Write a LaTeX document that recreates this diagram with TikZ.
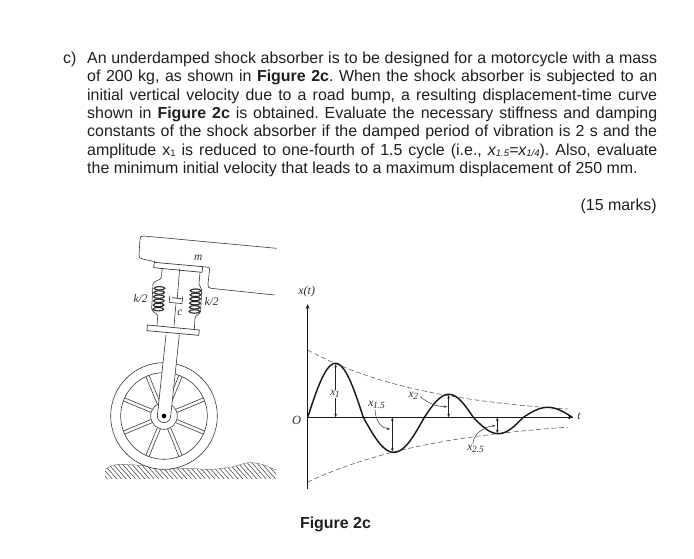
\documentclass[tikz,border=0pt]{standalone}
\usepackage{fontspec}
\setmainfont{Liberation Sans}
\newfontfamily\labelfont{Liberation Serif}
\usetikzlibrary{arrows.meta,calc}
\frenchspacing
\newcommand{\subsm}[1]{\raisebox{-1.6pt}{\fontsize{9.5}{9.5}\selectfont #1}}
\newcommand{\linebox}[1]{\makebox[570pt][s]{#1}}
\tikzset{
  para/.style={anchor=base west,inner sep=0pt,font=\fontsize{15.95}{18}\selectfont,text=black!88},
  sketch/.style={draw=black!78,line width=0.6pt,line join=round},
  sym/.style={inner sep=0pt,text=black!82,font=\labelfont\itshape\fontsize{11.5}{12}\selectfont},
  curve/.style={draw=black!90,line width=1.45pt,line cap=round},
  axisline/.style={draw=black!90,line width=1.2pt,-{Stealth[length=5pt,width=3.8pt]}},
  envelope/.style={draw=black!62,line width=0.6pt,dash pattern=on 5pt off 2.6pt},
  dim/.style={draw=black!85,line width=0.55pt,{Stealth[length=3.6pt,width=2.6pt]}-{Stealth[length=3.6pt,width=2.6pt]}},
  leader/.style={draw=black!75,line width=0.55pt,-{Stealth[length=3.6pt,width=2.6pt]}}
}
\begin{document}
\begin{tikzpicture}[x=1pt,y=-1pt]
\useasboundingbox (0,0) rectangle (694,558);
\fill[white] (0,0) rectangle (694,558);
% --- text ---
\node[para] (tc) at (63,63.5) {c)};
\node[para] (t1) at (87,63.5) {\linebox{An underdamped shock absorber is to be designed for a motorcycle with a mass}};
\node[para] (t2) at (87,81.8) {\linebox{of 200 kg, as shown in \textbf{Figure 2c}. When the shock absorber is subjected to an}};
\node[para] (t3) at (87,100.1) {\linebox{initial vertical velocity due to a road bump, a resulting displacement-time curve}};
\node[para] (t4) at (87,118.4) {\linebox{shown in \textbf{Figure 2c} is obtained. Evaluate the necessary stiffness and damping}};
\node[para] (t5) at (87,136.7) {\linebox{constants of the shock absorber if the damped period of vibration is 2 s and the}};
\node[para] (t6) at (87,155) {\linebox{amplitude x\subsm{1} is reduced to one-fourth of 1.5 cycle (i.e., \textit{x\subsm{1.5}=x\subsm{1/4}}). Also, evaluate}};
\node[para] (t7) at (87,173.3) {the minimum initial velocity that leads to a maximum displacement of 250 mm.};
\node[para,anchor=base east] (t8) at (657,210.5) {(15 marks)};
\node[para,anchor=base] (fig) at (335.5,528) {\textbf{Figure 2c}};
% --- motorcycle suspension: coordinates are in units of the 3x crop ---
\begin{scope}[shift={(100,225)},x=0.3333pt,y=-0.3333pt]
  % ground
  \begin{scope}
    \clip (15,733) .. controls (35,722) and (50,716) .. (65,718)
      .. controls (95,718) and (120,722) .. (135,723)
      .. controls (160,728) and (175,733) .. (192,733)
      .. controls (220,733) and (245,729) .. (265,730)
      .. controls (290,731) and (315,734) .. (335,733)
      .. controls (360,732) and (380,728) .. (400,725)
      .. controls (420,720) and (435,713) .. (450,713)
      .. controls (480,713) and (505,725) .. (528,735)
      -- (528,762) -- (15,762) -- cycle;
    \foreach \i in {-60,-46,...,530}
      \draw[sketch,line width=0.5pt] (\i,700) -- (\i+60,768);
  \end{scope}
  \draw[sketch,line width=0.4pt,draw=black!55] (15,733) .. controls (35,722) and (50,716) .. (65,718)
      .. controls (95,718) and (120,722) .. (135,723)
      .. controls (160,728) and (175,733) .. (192,733)
      .. controls (220,733) and (245,729) .. (265,730)
      .. controls (290,731) and (315,734) .. (335,733)
      .. controls (360,732) and (380,728) .. (400,725)
      .. controls (420,720) and (435,713) .. (450,713)
      .. controls (480,713) and (505,725) .. (528,735);
  % wheel
  \coordinate (hub) at (192,573);
  \draw[sketch,fill=white] (hub) circle[radius=160];
  \draw[sketch] (hub) circle[radius=130];
  \foreach \a in {22.5,67.5,...,360} {
    \begin{scope}[shift={(hub)},rotate=\a]
      \draw[sketch] (40,-5) -- (130,-5) (40,5) -- (130,5);
    \end{scope}
  }
  \draw[sketch,fill=white] (hub) circle[radius=40];
  % fork
  \draw[sketch,fill=white] (198,330) -- (172,573) arc[start angle=180,end angle=0,radius=20] -- (238,330);
  \fill[black] (hub) circle[radius=7];
  % body
  \draw[sketch] (530,70) -- (132,33) .. controls (123,32) and (120,36) .. (120,42)
     -- (117,90) .. controls (117,98) and (120,101) .. (128,102) -- (165,110);
  \draw[sketch] (308,125) -- (326,127) .. controls (329,127) and (329,129) .. (329,131)
     -- (324,178) .. controls (323,186) and (326,189) .. (333,190) -- (524,210);
  % plates
  \draw[sketch,line width=0.7pt,fill=white] (163,112) -- (308,125) -- (306,142) -- (161,128) -- cycle;
  \draw[sketch,line width=0.7pt,fill=white] (142,300) -- (298,315) -- (296,331) -- (141,317) -- cycle;
  % spring housings
  \draw[sketch] (187,132) -- (183,158) .. controls (182,168) and (160,165) .. (159,178)
     -- (155,250) .. controls (155,264) and (174,262) .. (173,275) -- (171,303);
  \draw[sketch] (300,142) -- (297,178) .. controls (297,186) and (305,184) .. (305,194)
     -- (302,258) .. controls (301,270) and (286,268) .. (285,280) -- (283,313);
  % coils
  \foreach \i in {0,...,5} {
    \draw[draw=black!85,line width=1.1pt] ($(178.5,190)+(-0.7*\i*1,\i*12.5)$) ellipse[x radius=16,y radius=5.2];
    \draw[draw=black!85,line width=1.1pt] ($(287,197)+(-0.7*\i*1,\i*12.5)$) ellipse[x radius=16,y radius=5.2];
  }
  % damper
  \draw[sketch] (239,131) -- (232,219);
  \draw[sketch,line width=0.8pt] (216,218) -- (244,221);
  \draw[sketch] (209,212) -- (208,232) -- (246,236) -- (248,215);
  \draw[sketch] (228,235) -- (222,303);
  % labels
  \node[sym] (m) at (295,98) {m};
  \node[sym] (k1) at (122,222) {k/2};
  \node[sym] (k2) at (335,229) {k/2};
  \node[sym] (c) at (240,264) {c};
\end{scope}
% --- response plot: coordinates are in units of the 3x crop ---
\begin{scope}[shift={(285,280)},x=0.3333pt,y=-0.3333pt]
  \coordinate (O) at (68,412);
  \coordinate (ytop) at (68,72);
  \coordinate (ybot) at (68,628);
  \coordinate (xend) at (864,412);
  \draw[envelope] plot[domain=68:848,samples=40] (\x,{412-202*exp(-(\x-68)/372)});
  \draw[envelope] plot[domain=68:850,samples=40] (\x,{412+194*exp(-(\x-68)/414)});
  \draw[axisline] (ybot) -- (ytop);
  \draw[axisline] (O) -- (xend);
  \foreach \xa/\xb/\am in {68/235/162,235/418/-105,418/565/69,565/715/-49,715/862/30}
    \draw[curve] plot[domain=\xa:\xb,samples=36] (\x,{412-(\am)*sin((\x-\xa)/(\xb-\xa)*180)});
  % amplitudes
  \coordinate (a1) at (152,412); \coordinate (b1) at (152,252);
  \coordinate (a2) at (322,412); \coordinate (b2) at (322,515);
  \coordinate (a3) at (491,412); \coordinate (b3) at (491,345);
  \coordinate (a4) at (637,412); \coordinate (b4) at (637,460);
  \draw[dim] (a1) -- (b1);
  \draw[dim] (a2) -- (b2);
  \draw[dim] (a3) -- (b3);
  \draw[dim] (a4) -- (b4);
  % labels
  \node[sym,fill=white,inner ysep=1pt] (x1) at (150,342) {x\subsm{\kern-0.5pt 1}};
  \node[sym] (x15) at (275,375) {x\subsm{\kern-0.5pt 1.5}};
  \node[sym] (x2) at (385,347) {x\subsm{\kern-0.5pt 2}};
  \node[sym] (x25) at (572,507) {x\subsm{\kern-0.5pt 2.5}};
  \node[sym,font=\labelfont\itshape\fontsize{12.5}{13}\selectfont] (olab) at (35,420) {O};
  \node[sym] (tlab) at (882,410) {t};
  \node[sym,font=\labelfont\itshape\fontsize{12}{13}\selectfont] (xt) at (65,36) {x(t)};
  % leaders
  \coordinate (l1) at (316,447);
  \coordinate (l2) at (487,380);
  \coordinate (l3) at (632,437);
  \draw[leader] (x15.south) ++(-5,3) .. controls (272,425) and (290,445) .. (l1);
  \draw[leader] (x2.east) ++(6,3) .. controls (430,370) and (455,380) .. (l2);
  \draw[leader] (x25.north) ++(-8,-3) .. controls (562,465) and (595,440) .. (l3);
\end{scope}
\end{tikzpicture}
\end{document}
